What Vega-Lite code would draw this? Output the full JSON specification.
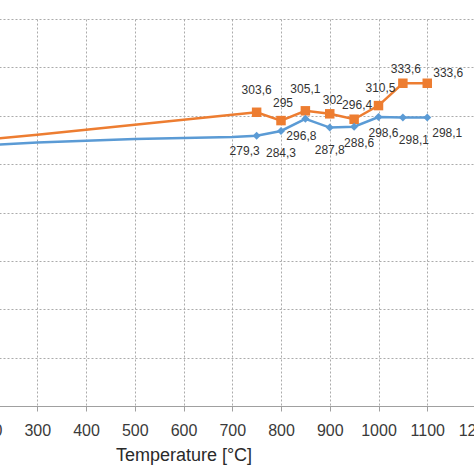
{
  "$schema": "https://vega.github.io/schema/vega-lite/v6.json",
  "autosize": "none",
  "width": 585,
  "height": 387,
  "padding": {"left": -109, "top": 19, "right": 0, "bottom": 68},
  "config": {
    "locale": {"number": {"decimal": ",", "thousands": ".", "grouping": [3], "currency": ["", " €"]}},
    "view": {"stroke": null},
    "font": "Liberation Sans",
    "axis": {"gridColor": "#ababab", "gridDash": [2, 2], "gridWidth": 1},
    "text": {"fontSize": 12, "color": "#333333"}
  },
  "data": {
    "values": [
      {"series": "upper", "temp": 200, "value": 275.8},
      {"series": "upper", "temp": 300, "value": 280.3},
      {"series": "upper", "temp": 400, "value": 285.5},
      {"series": "upper", "temp": 500, "value": 290.7},
      {"series": "upper", "temp": 600, "value": 295.9},
      {"series": "upper", "temp": 700, "value": 301.0},
      {"series": "upper", "temp": 750, "value": 303.6},
      {"series": "upper", "temp": 800, "value": 295},
      {"series": "upper", "temp": 850, "value": 305.1},
      {"series": "upper", "temp": 900, "value": 302},
      {"series": "upper", "temp": 950, "value": 296.4},
      {"series": "upper", "temp": 1000, "value": 310.5},
      {"series": "upper", "temp": 1050, "value": 333.6},
      {"series": "upper", "temp": 1100, "value": 333.6},
      {"series": "lower", "temp": 200, "value": 269.5},
      {"series": "lower", "temp": 300, "value": 272.4},
      {"series": "lower", "temp": 400, "value": 274.1},
      {"series": "lower", "temp": 500, "value": 275.9},
      {"series": "lower", "temp": 600, "value": 276.9},
      {"series": "lower", "temp": 700, "value": 278.0},
      {"series": "lower", "temp": 750, "value": 279.3},
      {"series": "lower", "temp": 800, "value": 284.3},
      {"series": "lower", "temp": 850, "value": 296.8},
      {"series": "lower", "temp": 900, "value": 287.8},
      {"series": "lower", "temp": 950, "value": 288.6},
      {"series": "lower", "temp": 1000, "value": 298.6},
      {"series": "lower", "temp": 1050, "value": 298.1},
      {"series": "lower", "temp": 1100, "value": 298.1}
    ]
  },
  "encoding": {
    "x": {
      "field": "temp",
      "type": "quantitative",
      "scale": {"domain": [0, 1200], "nice": false},
      "axis": {
        "title": "Temperature [°C]",
        "values": [0, 100, 200, 300, 400, 500, 600, 700, 800, 900, 1000, 1100, 1200],
        "format": "d",
        "grid": true,
        "labelOverlap": false,
        "labelFlush": false,
        "domainColor": "#a0a0a0",
        "tickColor": "#a0a0a0",
        "tickSize": 5,
        "labelFontSize": 16,
        "labelColor": "#3a3a3a",
        "labelPadding": 11,
        "titleFontSize": 18,
        "titleFontWeight": "normal",
        "titleColor": "#2a2a2a",
        "titlePadding": 8
      }
    },
    "y": {
      "field": "value",
      "type": "quantitative",
      "scale": {"domain": [0, 400], "nice": false},
      "axis": {
        "title": null,
        "values": [0, 50, 100, 150, 200, 250, 300, 350, 400],
        "grid": true,
        "domain": false,
        "ticks": false,
        "labels": false
      }
    },
    "text": {"field": "value", "type": "quantitative", "format": ".1~f"}
  },
  "layer": [
    {
      "mark": {"type": "line", "strokeWidth": 2.5},
      "encoding": {
        "text": null,
        "color": {
          "field": "series",
          "type": "nominal",
          "scale": {"domain": ["upper", "lower"], "range": ["#ED7D31", "#5B9BD5"]},
          "legend": null
        }
      }
    },
    {
      "transform": [{"filter": "datum.series === 'upper' && datum.temp >= 750"}],
      "mark": {"type": "point", "shape": "square", "filled": true, "opacity": 1, "size": 90, "color": "#ED7D31"},
      "encoding": {"text": null}
    },
    {
      "transform": [{"filter": "datum.series === 'lower' && datum.temp >= 750"}],
      "mark": {"type": "point", "shape": "diamond", "filled": true, "opacity": 1, "size": 64, "color": "#5B9BD5"},
      "encoding": {"text": null}
    },
    {
      "transform": [{"filter": "datum.series === 'upper' && (datum.temp === 750 || datum.temp === 850)"}],
      "mark": {"type": "text", "dy": -22}
    },
    {
      "transform": [{"filter": "datum.series === 'upper' && (datum.temp === 800 || datum.temp === 1000)"}],
      "mark": {"type": "text", "dx": 2, "dy": -18}
    },
    {
      "transform": [{"filter": "datum.series === 'upper' && (datum.temp === 900 || datum.temp === 950 || datum.temp === 1050)"}],
      "mark": {"type": "text", "dx": 3, "dy": -14}
    },
    {
      "transform": [{"filter": "datum.series === 'upper' && datum.temp === 1100"}],
      "mark": {"type": "text", "dx": 21, "dy": -10}
    },
    {
      "transform": [{"filter": "datum.series === 'lower' && datum.temp === 750"}],
      "mark": {"type": "text", "dx": -12, "dy": 15}
    },
    {
      "transform": [{"filter": "datum.series === 'lower' && (datum.temp === 800 || datum.temp === 900)"}],
      "mark": {"type": "text", "dy": 22}
    },
    {
      "transform": [{"filter": "datum.series === 'lower' && datum.temp === 850"}],
      "mark": {"type": "text", "dx": -4, "dy": 17}
    },
    {
      "transform": [{"filter": "datum.series === 'lower' && (datum.temp === 950 || datum.temp === 1000)"}],
      "mark": {"type": "text", "dx": 5, "dy": 16}
    },
    {
      "transform": [{"filter": "datum.series === 'lower' && datum.temp === 1050"}],
      "mark": {"type": "text", "dx": 11, "dy": 22}
    },
    {
      "transform": [{"filter": "datum.series === 'lower' && datum.temp === 1100"}],
      "mark": {"type": "text", "dx": 20, "dy": 15}
    }
  ]
}
